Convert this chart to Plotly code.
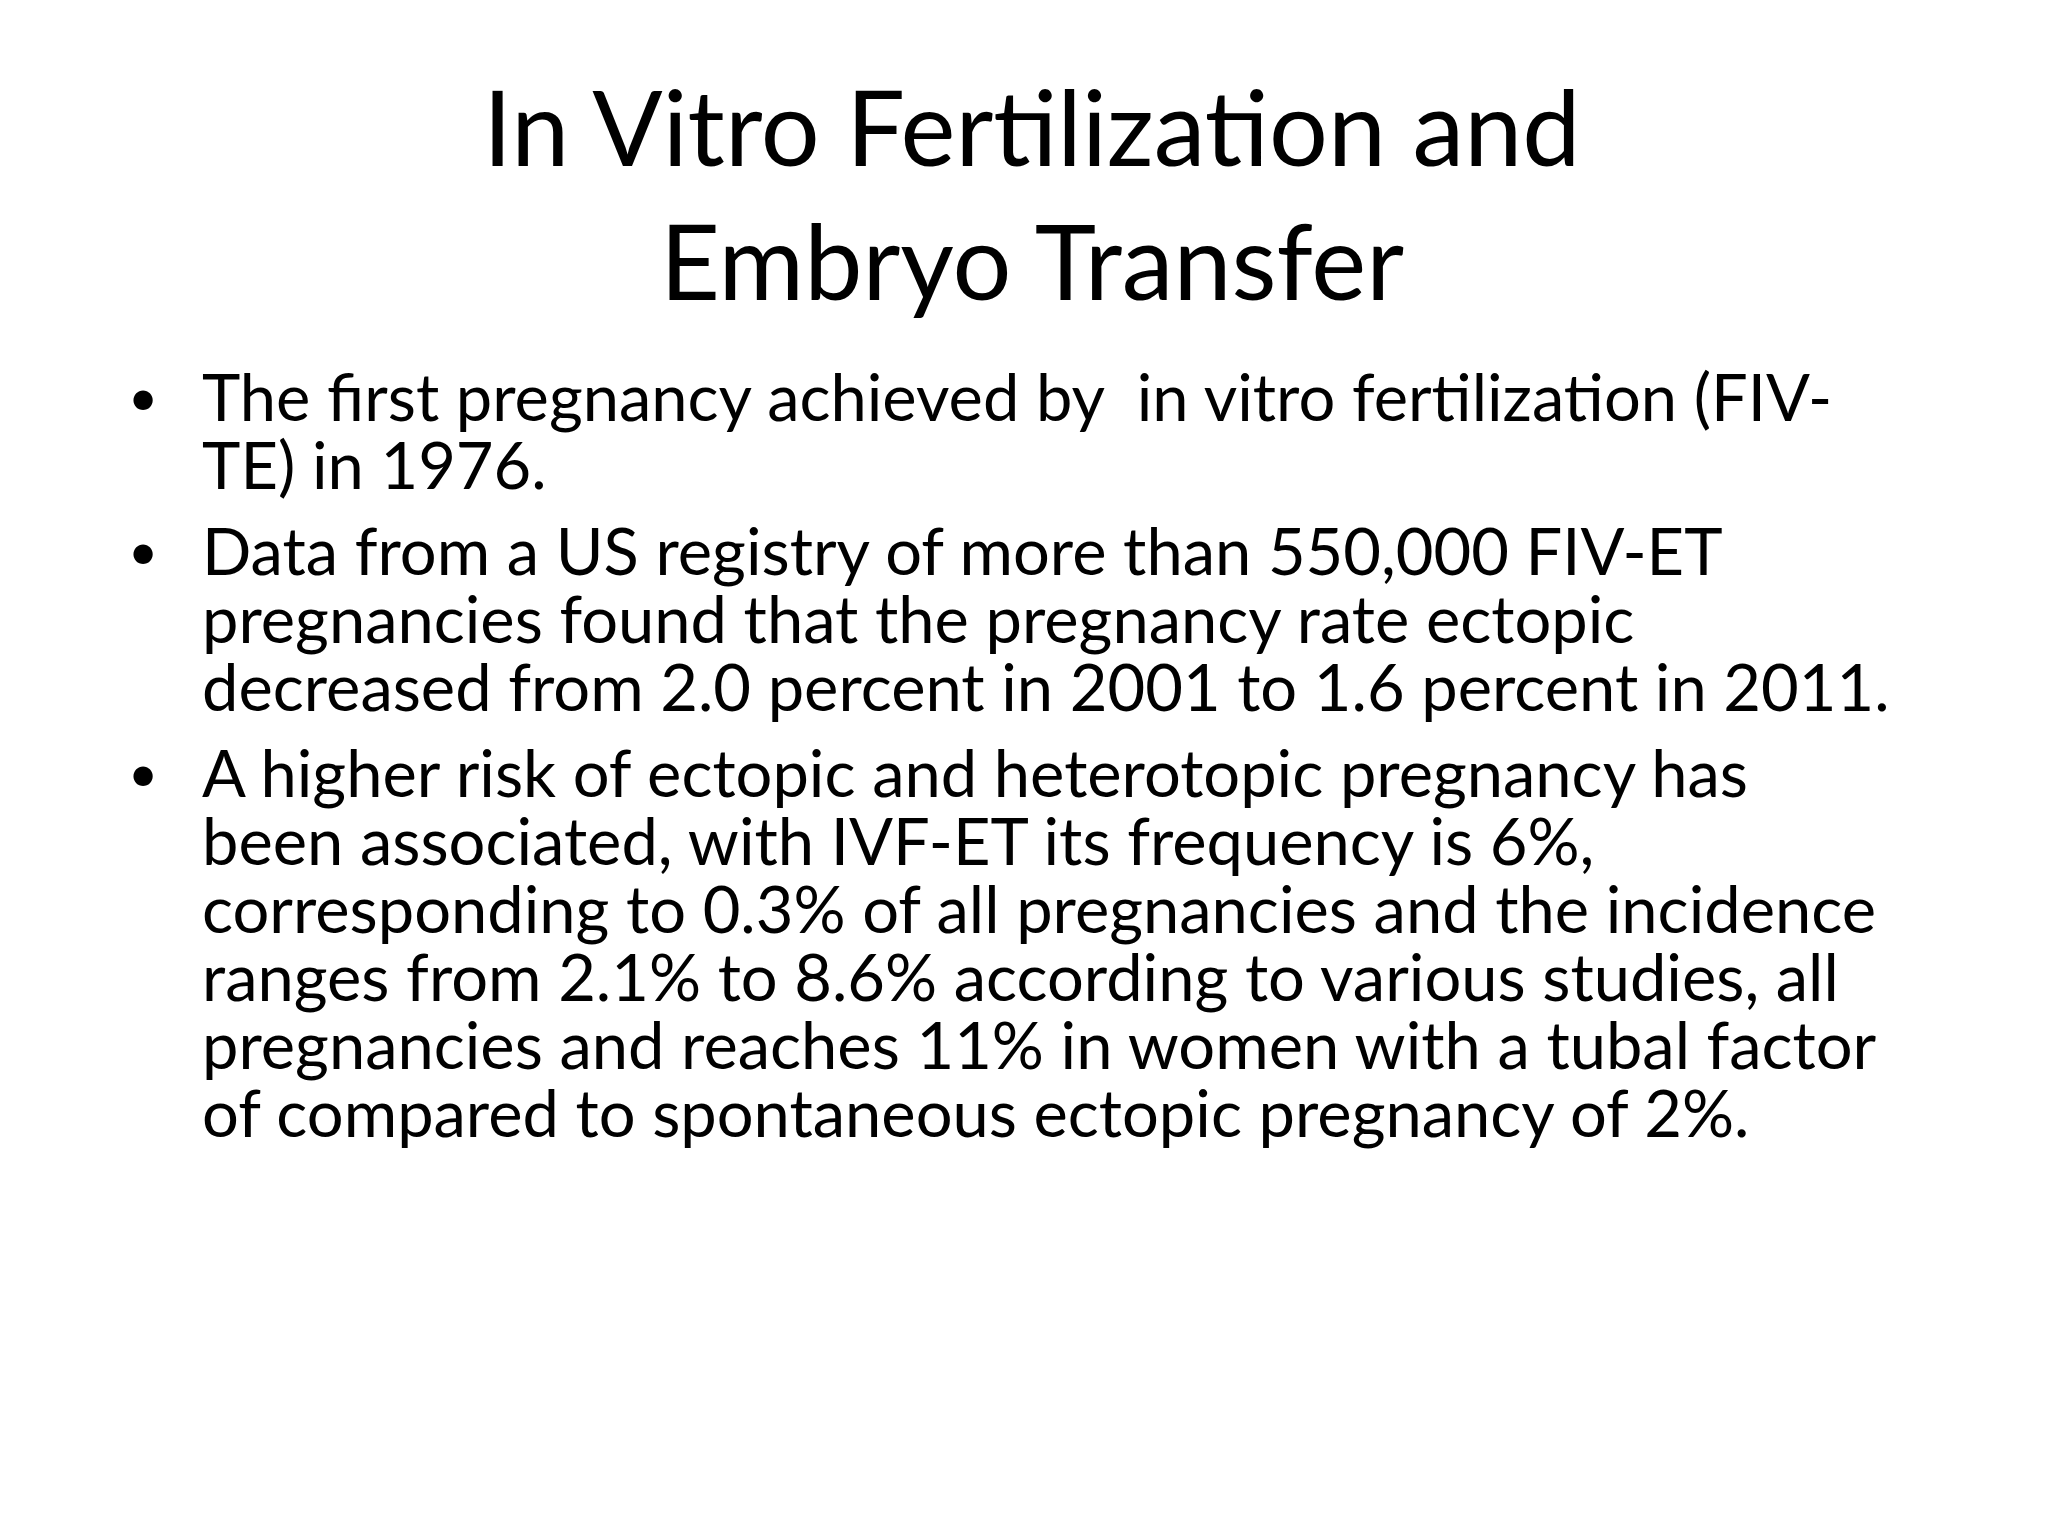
import plotly.graph_objects as go

title_lines = ["In Vitro Fertilization and", "Embryo Transfer"]
title_y = [117, 251]
bullet_lines = [
    ["The first pregnancy achieved by  in vitro fertilization (FIV-", "TE) in 1976."],
    ["Data from a US registry of more than 550,000 FIV-ET",
     "pregnancies found that the pregnancy rate ectopic",
     "decreased from 2.0 percent in 2001 to 1.6 percent in 2011."],
    ["A higher risk of ectopic and heterotopic pregnancy has",
     "been associated, with IVF-ET its frequency is 6%,",
     "corresponding to 0.3% of all pregnancies and the incidence",
     "ranges from 2.1% to 8.6% according to various studies, all",
     "pregnancies and reaches 11% in women with a tubal factor",
     "of compared to spontaneous ectopic pregnancy of 2%."],
]
bullet_start_y = [388, 542, 764]

W, H = 2048, 1536
FONT = "Lato"
fig = go.Figure()
ann = []
for t, y in zip(title_lines, title_y):
    ann.append(dict(x=1024, y=H - y, text=t, showarrow=False, xanchor="center", yanchor="middle",
                    font=dict(family=FONT, size=104, color="black")))
LS = 68
for lines, y0 in zip(bullet_lines, bullet_start_y):
    ann.append(dict(x=135, y=H - y0, text="•", showarrow=False, xanchor="center", yanchor="middle",
                    font=dict(family=FONT, size=52, color="black")))
    for i, l in enumerate(lines):
        ann.append(dict(x=192, y=H - (y0 + i * LS), text=l, showarrow=False, xanchor="left",
                        yanchor="middle", font=dict(family=FONT, size=65, color="black")))
fig.update_layout(width=W, height=H, margin=dict(l=0, r=0, t=0, b=0),
                  paper_bgcolor="white", plot_bgcolor="white", annotations=ann,
                  xaxis=dict(range=[0, W], visible=False, fixedrange=True),
                  yaxis=dict(range=[0, H], visible=False, fixedrange=True),
                  showlegend=False)
fig.write_html("out.html")
